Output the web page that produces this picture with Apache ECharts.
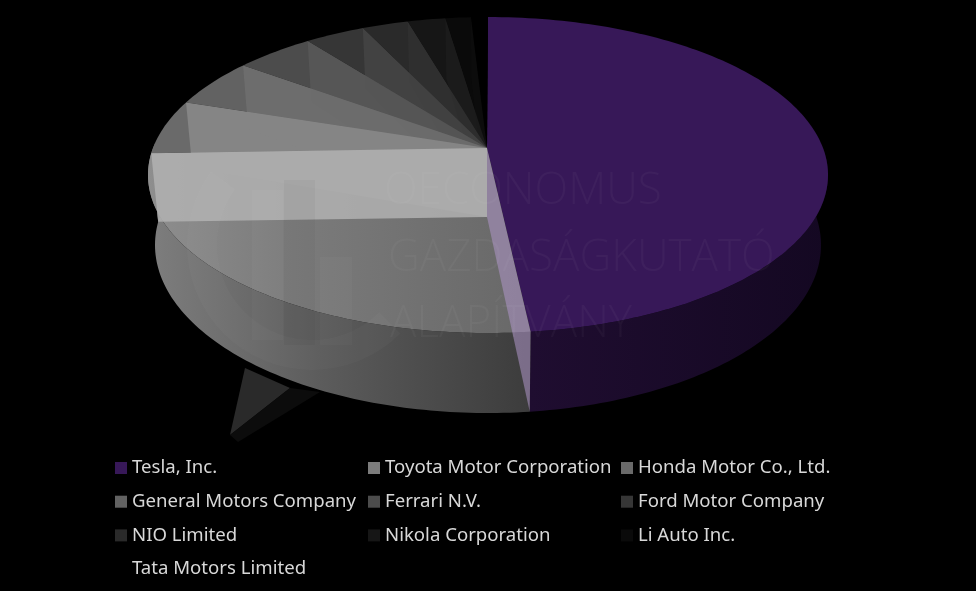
<!DOCTYPE html>
<html><head><meta charset="utf-8">
<script src="https://cdn.jsdelivr.net/npm/echarts@6/dist/echarts.min.js"></script>
<style>html,body{margin:0;padding:0;background:#000}#c{width:976px;height:591px}</style>
</head><body><div id="c"></div>
<script>
const companies = ['Tesla, Inc.','Toyota Motor Corporation','Honda Motor Co., Ltd.','General Motors Company','Ferrari N.V.','Ford Motor Company','NIO Limited','Nikola Corporation','Li Auto Inc.','Tata Motors Limited'];
const shares = [48,29.2,5.4,4.6,3.9,2.9,2.2,1.8,1.2,0.8];
const colors = ['#371858','#7c7c7c','#6a6a6a','#626262','#4c4c4c','#363636','#2a2a2a','#161616','#0a0a0a','#000000'];
const wallFill = ['rgba(175,150,200,0.55)','rgba(178,178,178,0.85)','rgba(138,138,138,0.85)','rgba(112,112,112,0.85)','rgba(88,88,88,0.85)','rgba(68,68,68,0.85)','rgba(48,48,48,0.85)','rgba(28,28,28,0.85)','rgba(13,13,13,0.85)','rgba(0,0,0,0)'];
const legendColumns = [[0,3,6,9],[1,4,7],[2,5,8]];

const top3d = {cx:488, cy:175, rx:340, ry:158, hubX:487, hubY:148};
const low3d = {cx:488, cy:245, rx:333, ry:168, hubX:487, hubY:217};
const total = shares.reduce((a,b)=>a+b,0);
const starts = []; shares.reduce((acc,v,i)=>{starts[i]=acc; return acc+v;},0);
const ang = v => v/total*2*Math.PI;
const pt = (e,t) => [e.cx+e.rx*Math.sin(t), e.cy-e.ry*Math.cos(t)];
function arc(e,a,b){const n=Math.max(2,Math.ceil(Math.abs(b-a)/0.02));const r=[];for(let i=0;i<=n;i++)r.push(pt(e,a+(b-a)*i/n));return r;}

function renderer(i){
  return function(){
    const a=ang(starts[i]), b=ang(starts[i]+shares[i]);
    const kids=[];
    const lo=80*Math.PI/180, hi=282*Math.PI/180;
    const s=Math.max(a,lo), e=Math.min(b,hi);
    if(e>s){
      const fill = i===0
        ? {type:'linear',x:0,y:0,x2:1,y2:0,colorStops:[{offset:0,color:'#1f0d30'},{offset:1,color:'#140822'}]}
        : {type:'linear',x:0,y:0,x2:1,y2:0,colorStops:[{offset:0,color:'#7e7e7e'},{offset:0.45,color:'#5c5c5c'},{offset:1,color:'#3c3c3c'}]};
      kids.push({type:'polygon',z2:10,shape:{points:arc(top3d,s,e).concat(arc(low3d,e,s))},style:{fill}});
    }
    const fillTop = i===1
      ? {type:'linear',x:0,y:0,x2:1,y2:0,colorStops:[{offset:0,color:'#8e8e8e'},{offset:0.35,color:'#7c7c7c'},{offset:1,color:'#686868'}]}
      : colors[i];
    kids.push({type:'polygon',z2:20+i,shape:{points:[[top3d.hubX,top3d.hubY]].concat(arc(top3d,a,b))},style:{fill:fillTop}});
    const wz = i<2 ? 60+i : 40+(9-i);
    kids.push({type:'polygon',z2:wz,shape:{points:[[top3d.hubX,top3d.hubY],pt(top3d,b),pt(low3d,b),[low3d.hubX,low3d.hubY]]},style:{fill:wallFill[i]}});
    return {type:'group',children:kids};
  };
}

const series = companies.map((name,i)=>({
  type:'custom', name, coordinateSystem:'none', data:[[shares[i]]],
  itemStyle:{color:colors[i]}, renderItem:renderer(i), silent:true, animation:false
}));
const xs=[115,368,621];
const legend = legendColumns.map((col,k)=>({
  orient:'vertical', left:xs[k], top:458, padding:0, itemWidth:12, itemHeight:12, itemGap:13.7,
  icon:'rect', selectedMode:false, data:col.map(i=>companies[i]),
  textStyle:{color:'#d8d8d8',fontFamily:'Noto Sans',fontSize:18.6,lineHeight:20}
}));
const wm='rgba(255,255,255,0.035)';
const logo='rgba(255,255,255,0.022)';
const wmText=(text,x,y)=>({type:'text',left:x,top:y,z:100,silent:true,style:{text,fill:wm,font:'300 44px "Open Sans"'}});
const graphic=[
  {type:'polygon',z:1,silent:true,shape:{points:[[245,368],[290,388],[230,435]]},style:{fill:'#2a2a2a'}},
  {type:'polygon',z:1,silent:true,shape:{points:[[290,388],[230,435],[238,442],[320,392]]},style:{fill:'#0c0c0c'}},
  {type:'sector',z:100,silent:true,shape:{cx:312,cy:245,r:125,r0:95,startAngle:Math.PI*0.25,endAngle:Math.PI*1.2},style:{fill:logo}},
  {type:'rect',z:100,silent:true,shape:{x:252,y:190,width:31,height:150},style:{fill:logo}},
  {type:'rect',z:100,silent:true,shape:{x:284,y:180,width:31,height:165},style:{fill:'rgba(0,0,0,0.03)'}},
  {type:'rect',z:100,silent:true,shape:{x:320,y:257,width:32,height:88},style:{fill:logo}},
  wmText('OECONOMUS',384,169), wmText('GAZDASÁGKUTATÓ',388,236), wmText('ALAPÍTVÁNY',390,302)
];
const chart=echarts.init(document.getElementById('c'),null,{renderer:'canvas'});
chart.setOption({backgroundColor:'#000',animation:false,legend,graphic,series});
</script></body></html>
